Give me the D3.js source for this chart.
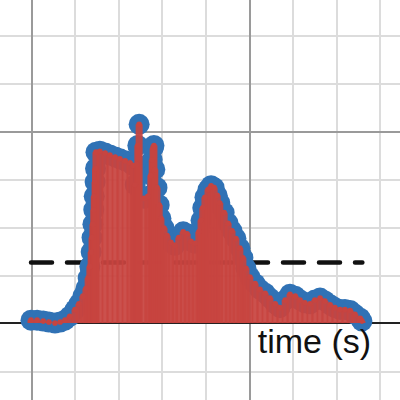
<!DOCTYPE html>
<html>
<head>
<meta charset="utf-8">
<script src="https://cdn.jsdelivr.net/npm/d3@7"></script>
<style>
    body { margin: 0; background: #fff; }
    .grid line { shape-rendering: crispEdges; }
    .grid .domain { display: none; }
    .minor line { stroke: #dcdcdc; stroke-width: 2; }
    .major line { stroke: #9a9a9a; stroke-width: 2; }
    .axis-label { font-family: 'Liberation Sans', Arial, sans-serif; font-size: 34px; fill: #111; }
</style>
</head>
<body>
<svg id="chart"></svg>
<script>
//data: sample times (s) and measured values
var times = [0, 0.14, 0.28, 0.41, 0.55, 0.67, 0.78, 0.89, 1.01, 1.10, 1.19, 1.26, 1.31, 1.35, 1.38, 1.40,
    1.42, 1.44, 1.45, 1.47, 1.48, 1.49, 1.58, 1.70, 1.81, 1.93, 2.04, 2.16, 2.27, 2.34,
    2.39, 2.43, 2.45, 2.48, 2.59, 2.68, 2.75, 2.78, 2.80, 2.82, 2.84, 2.89, 2.94, 2.98,
    3.05, 3.12, 3.21, 3.30, 3.39, 3.49, 3.58, 3.67, 3.76, 3.85, 3.90, 3.94, 3.99, 4.06,
    4.13, 4.20, 4.27, 4.33, 4.43, 4.52, 4.61, 4.70, 4.79, 4.86, 4.93, 5.02, 5.14, 5.25,
    5.37, 5.48, 5.60, 5.71, 5.83, 5.94, 6.06, 6.17, 6.28, 6.40, 6.51, 6.63, 6.74, 6.86,
    6.97, 7.09, 7.20, 7.32, 7.43, 7.55, 7.59];
var values = [0.03, 0.03, 0.02, 0.01, 0.00, 0.01, 0.03, 0.07, 0.14, 0.20, 0.28, 0.36, 0.47, 0.59, 0.74, 0.89,
    1.03, 1.18, 1.32, 1.47, 1.61, 1.78, 1.79, 1.77, 1.75, 1.73, 1.71, 1.69, 1.67, 1.64,
    1.44, 1.65, 1.85, 2.07, 1.30, 1.32, 1.54, 1.70, 1.82, 1.85, 1.60, 1.41, 1.23, 1.09,
    0.99, 0.91, 0.84, 0.81, 0.89, 0.95, 0.93, 0.85, 0.83, 0.95, 1.07, 1.20, 1.31, 1.39,
    1.43, 1.41, 1.33, 1.25, 1.15, 1.04, 0.96, 0.88, 0.78, 0.68, 0.57, 0.48, 0.41, 0.35,
    0.31, 0.26, 0.20, 0.16, 0.24, 0.30, 0.28, 0.24, 0.21, 0.20, 0.24, 0.26, 0.23, 0.19,
    0.16, 0.14, 0.14, 0.13, 0.09, 0.05, 0.02];

//mean line
var meanValue = 0.63,
    meanExtent = [0, 7.6];

//grid values
var xMinorTicks = [1, 2, 3, 4, 6, 7, 8],
    xMajorTicks = [0, 5],
    yMinorTicks = [-0.5, 0.5, 1, 1.5, 2.5, 3],
    yMajorTicks = [2];

var axisTitle = 'time (s)';

var data = times.map((t, i) => ({t: t, v: values[i]}));

//chart parameters
var svg = d3.select('#chart')
    .attr('width', 400)
    .attr('height', 400);

var width = +svg.attr('width'),
    height = +svg.attr('height');

//define scales
var xScale = d3.scaleLinear().domain([-0.711, 8.463]).range([0, width]),
    yScale = d3.scaleLinear().domain([-0.802, 3.365]).range([height, 0]);

var canvas = svg.append('g').attr('class', 'canvas');

//vertical gridlines
function xGrid(ticks, cls) {
    canvas.append('g')
        .attr('class', 'grid ' + cls)
        .attr('transform', 'translate(0,' + height + ')')
        .call(d3.axisBottom(xScale)
            .tickValues(ticks)
            .tickSize(-height)
            .tickFormat(''));
};

//horizontal gridlines
function yGrid(ticks, cls) {
    canvas.append('g')
        .attr('class', 'grid ' + cls)
        .call(d3.axisLeft(yScale)
            .tickValues(ticks)
            .tickSize(-width)
            .tickFormat(''));
};

xGrid(xMinorTicks, 'minor');
yGrid(yMinorTicks, 'minor');
xGrid(xMajorTicks, 'major');
yGrid(yMajorTicks, 'major');

//x axis line
canvas.append('line')
    .attr('x1', 0)
    .attr('x2', width)
    .attr('y1', yScale(0))
    .attr('y2', yScale(0))
    .style('stroke', '#222')
    .style('stroke-width', 2);

//dashed mean line
canvas.append('line')
    .attr('x1', xScale(meanExtent[0]))
    .attr('x2', xScale(meanExtent[1]))
    .attr('y1', yScale(meanValue))
    .attr('y2', yScale(meanValue))
    .style('stroke', '#111')
    .style('stroke-width', 4.5)
    .style('stroke-linecap', 'round')
    .style('stroke-dasharray', '21 15');

//blue points
canvas.selectAll('.pt').data(data)
    .enter().append('circle')
        .attr('class', 'pt')
        .attr('cx', d => xScale(d.t))
        .attr('cy', d => yScale(d.v))
        .attr('r', 10.5)
        .style('fill', '#3072b5');

//red bars
canvas.selectAll('.bar').data(data)
    .enter().append('rect')
        .attr('class', 'bar')
        .attr('x', d => xScale(d.t) - 3.5)
        .attr('y', d => yScale(d.v))
        .attr('width', 7)
        .attr('height', d => yScale(0) - yScale(d.v))
        .style('fill', '#c74440')
        .style('fill-opacity', 0.93);

//red dots at bar tops
canvas.selectAll('.dot').data(data)
    .enter().append('circle')
        .attr('class', 'dot')
        .attr('cx', d => xScale(d.t))
        .attr('cy', d => yScale(d.v))
        .attr('r', 2.8)
        .style('fill', '#c74440');

//axis label
canvas.append('text')
    .attr('class', 'axis-label')
    .attr('x', xScale(5.2))
    .attr('y', yScale(-0.31))
    .text(axisTitle);
</script>
</body>
</html>
